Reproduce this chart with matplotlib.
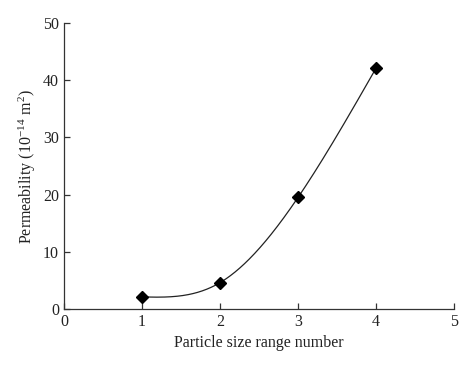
import numpy as np
import matplotlib.pyplot as plt

plt.rcParams['font.family'] = ['Liberation Serif', 'DejaVu Serif']
plt.rcParams['mathtext.fontset'] = 'stix'

size_range = [1, 2, 3, 4]
permeability = [2.1, 4.6, 19.5, 42.1]


def natural_spline(x, y, xs):
    # natural cubic spline for the smoothed line
    x = np.asarray(x, float)
    y = np.asarray(y, float)
    n = len(x)
    h = np.diff(x)
    A = np.zeros((n, n))
    b = np.zeros(n)
    A[0, 0] = A[-1, -1] = 1
    for i in range(1, n - 1):
        A[i, i - 1] = h[i - 1]
        A[i, i] = 2 * (h[i - 1] + h[i])
        A[i, i + 1] = h[i]
        b[i] = 6 * ((y[i + 1] - y[i]) / h[i] - (y[i] - y[i - 1]) / h[i - 1])
    M = np.linalg.solve(A, b)
    out = np.empty_like(xs)
    for k, t in enumerate(xs):
        i = min(np.searchsorted(x, t, side='right') - 1, n - 2)
        i = max(i, 0)
        a, c = x[i + 1] - t, t - x[i]
        out[k] = (M[i] * a**3 + M[i + 1] * c**3) / (6 * h[i]) \
            + (y[i] / h[i] - M[i] * h[i] / 6) * a \
            + (y[i + 1] / h[i] - M[i + 1] * h[i] / 6) * c
    return out


fig = plt.figure(figsize=(4.74, 3.70), dpi=100)
ax = fig.add_axes([0.135, 0.165, 0.823, 0.773])

xs = np.linspace(size_range[0], size_range[-1], 300)
ax.plot(xs, natural_spline(size_range, permeability, xs), color='#222222', lw=0.9)
ax.plot(size_range, permeability, linestyle='none', marker='D', ms=6.5,
        color='black')

ax.set_xlim(0, 5)
ax.set_ylim(0, 50)
ax.set_xticks(range(0, 6))
ax.set_yticks(range(0, 51, 10))
ax.spines['top'].set_visible(False)
ax.spines['right'].set_visible(False)
for s in ['left', 'bottom']:
    ax.spines[s].set_color('#333333')
    ax.spines[s].set_linewidth(0.9)
ax.tick_params(direction='in', length=4, width=0.9, color='#333333',
               labelsize=11.5, labelcolor='#222222')

ax.set_xlabel('Particle size range number', fontsize=11.5, color='#222222')
ax.set_ylabel('Permeability (10$^{\\mathregular{\u221214}}$ m$^{\\mathregular{2}}$)',
              fontsize=11.5, color='#222222')

fig.savefig('out.png', dpi=100)
